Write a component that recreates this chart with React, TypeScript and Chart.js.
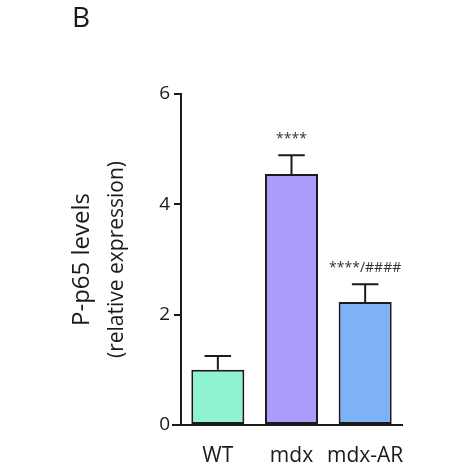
import React, { useEffect, useRef } from "react";
import { Chart, registerables } from "chart.js";

Chart.register(...registerables);

const categories = ["WT", "mdx", "mdx-AR"];
const means = [1.0, 4.55, 2.23];
const errors = [0.25, 0.34, 0.32];
const significance = ["", "****", "****/####"];
const barColors = ["#8ff3d3", "#ab9bfd", "#7db3f6"];
const yMin = 0;
const yMax = 6;
const yStep = 2;
const yTitleLines = ["P-p65 levels", "(relative expression)"];
const panelLabel = "B";

const FONT = "'Open Sans', 'Noto Sans', sans-serif";
const INK = "#1a1a1a";

const overlayPlugin = {
  id: "overlay",
  afterDatasetsDraw(chart: any) {
    const ctx = chart.ctx;
    const xs = chart.scales.x;
    const ys = chart.scales.y;
    const meta = chart.getDatasetMeta(0);
    ctx.save();
    ctx.strokeStyle = INK;
    ctx.lineWidth = 2;
    means.forEach((m, i) => {
      const cx = xs.getPixelForValue(i);
      const yTop = ys.getPixelForValue(m);
      const yErr = ys.getPixelForValue(m + errors[i]);
      const capHalf = meta.data[i].width * 0.25;
      ctx.beginPath();
      ctx.moveTo(cx, yTop);
      ctx.lineTo(cx, yErr);
      ctx.moveTo(cx - capHalf, yErr);
      ctx.lineTo(cx + capHalf, yErr);
      ctx.stroke();
      if (significance[i]) {
        ctx.fillStyle = "#333";
        ctx.font = `14px ${FONT}`;
        ctx.textAlign = "center";
        ctx.textBaseline = "middle";
        ctx.fillText(significance[i], cx, yErr - 16);
      }
    });
    // x axis extension left of y axis
    const y0 = ys.getPixelForValue(0);
    ctx.beginPath();
    ctx.moveTo(chart.chartArea.left - 9, y0);
    ctx.lineTo(chart.chartArea.left, y0);
    ctx.stroke();
    // y title
    const midY = (chart.chartArea.top + chart.chartArea.bottom) / 2;
    ctx.fillStyle = INK;
    ctx.textAlign = "center";
    ctx.textBaseline = "middle";
    ctx.save();
    ctx.translate(82, midY);
    ctx.rotate(-Math.PI / 2);
    ctx.font = `24px ${FONT}`;
    ctx.fillText(yTitleLines[0], 0, 0);
    ctx.restore();
    ctx.save();
    ctx.translate(117, midY);
    ctx.rotate(-Math.PI / 2);
    ctx.font = `21px ${FONT}`;
    ctx.fillText(yTitleLines[1], 0, 0);
    ctx.restore();
    // panel label
    ctx.font = `28px ${FONT}`;
    ctx.textAlign = "center";
    ctx.fillText(panelLabel, 81, 19);
    ctx.restore();
  },
};

export default function App() {
  const ref = useRef<HTMLCanvasElement>(null);
  useEffect(() => {
    if (!ref.current) return;
    const chart = new Chart(ref.current, {
      type: "bar",
      data: {
        labels: categories,
        datasets: [
          {
            data: means,
            backgroundColor: barColors,
            borderColor: INK,
            borderWidth: 2,
            borderSkipped: false,
            categoryPercentage: 1,
            barPercentage: 0.72,
          },
        ],
      },
      options: {
        responsive: false,
        animation: false,
        devicePixelRatio: 1,
        layout: { padding: { left: 0, top: 94, right: 72, bottom: 0 } },
        plugins: {
          legend: { display: false },
          tooltip: { enabled: false },
          title: { display: false },
        },
        scales: {
          x: {
            grid: { display: false },
            border: { display: true, color: INK, width: 2 },
            ticks: {
              color: INK,
              font: { family: FONT, size: 21 },
              padding: 10,
              maxRotation: 0,
              minRotation: 0,
              autoSkip: false,
            },
            afterFit: (s: any) => {
              s.height = 49;
            },
          },
          y: {
            min: yMin,
            max: yMax,
            grid: {
              display: true,
              drawOnChartArea: false,
              drawTicks: true,
              tickLength: 7,
              color: INK,
              lineWidth: 2,
            },
            border: { display: true, color: INK, width: 2 },
            ticks: {
              stepSize: yStep,
              color: INK,
              font: { family: FONT, size: 19 },
              padding: 4,
            },
            afterFit: (s: any) => {
              s.width = 181;
            },
          },
        },
      },
      plugins: [overlayPlugin],
    });
    return () => chart.destroy();
  }, []);
  return (
    <div
      style={{
        position: "fixed",
        left: 0,
        top: 0,
        width: 474,
        height: 474,
        background: "#fff",
      }}
    >
      <canvas ref={ref} width={474} height={474} style={{ width: 474, height: 474 }} />
    </div>
  );
}
